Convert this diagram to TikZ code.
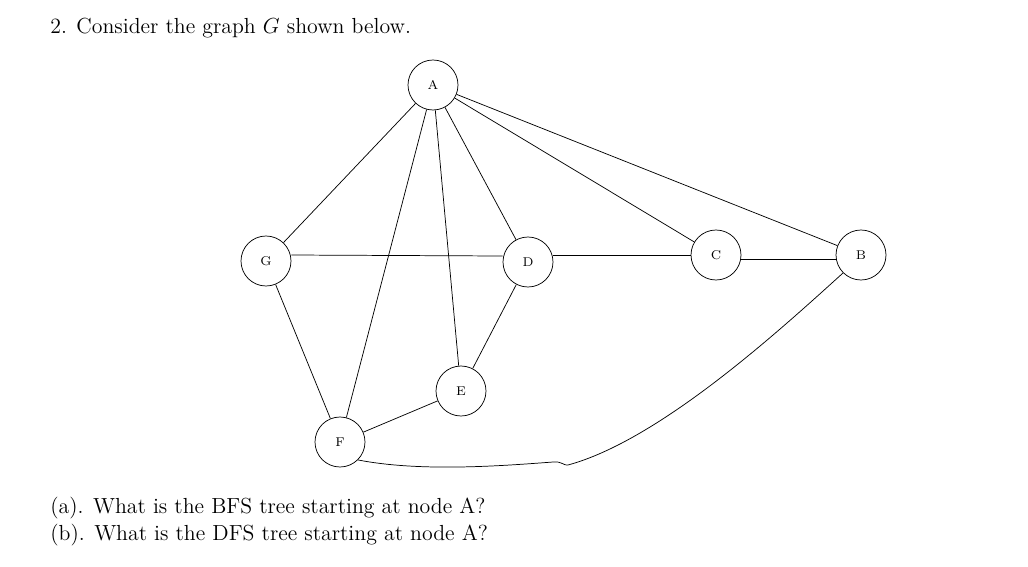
\documentclass[tikz,border=0pt]{standalone}
\begin{document}
\begin{tikzpicture}[x=0.55pt,y=-0.55pt,
  vtx/.style={circle,draw,minimum size=27.5pt,inner sep=0pt,font=\scriptsize},
  txt/.style={anchor=west,inner sep=0pt,font=\large},
  edge/.style={line width=0.4pt}]
\useasboundingbox (0,0) rectangle (1028,566);
\node[txt] (title) at (50,28) {2. Consider the graph $G$ shown below.};
\node[vtx] (A) at (433,85) {A};
\node[vtx] (G) at (266,261) {G};
\node[vtx] (D) at (528,262) {D};
\node[vtx] (C) at (716,255) {C};
\node[vtx] (B) at (861,255) {B};
\node[vtx] (E) at (461,391) {E};
\node[vtx] (F) at (340,442) {F};
\coordinate (k1) at (553,462);
\coordinate (k2) at (568,465);
\draw[edge] (A) -- (G);
\draw[edge] (A) -- (F);
\draw[edge] (A) -- (E);
\draw[edge] (A) -- (D);
\draw[edge] (A) -- (C);
\draw[edge] (A) -- (B);
\draw[edge] (G.east) ++(0,-6) -- ([yshift=6*0.55pt]D.west);
\draw[edge] ([yshift=7*0.55pt]D.east) -- (C.west);
\draw[edge] ([yshift=-4*0.55pt]C.east) -- ([yshift=-4*0.55pt]B.west);
\draw[edge] (G) -- (F);
\draw[edge] (D) -- (E);
\draw[edge] (E) -- (F);
\draw[edge] (F.south east) .. controls (420,472) and (500,466) .. (k1) .. controls (562,461) and (564,466) .. (k2) .. controls (660,440) and (780,330) .. (B.south west);
\node[txt] (qa) at (50,508) {(a). What is the BFS tree starting at node A?};
\node[txt] (qb) at (50,535) {(b). What is the DFS tree starting at node A?};
\end{tikzpicture}
\end{document}
